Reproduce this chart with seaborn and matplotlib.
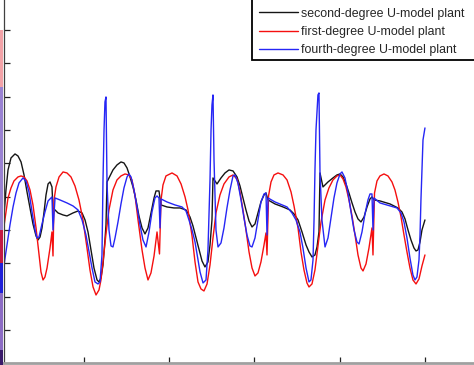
import numpy as np
import pandas as pd
import seaborn as sns
import matplotlib.pyplot as plt
from matplotlib.patches import Rectangle

# time (s) and plant output
t_second = [0.061, 0.084, 0.108, 0.143, 0.190, 0.225, 0.261, 0.296, 0.331, 0.366,
            0.401, 0.437, 0.460, 0.484, 0.507, 0.531, 0.554, 0.578, 0.601, 0.624,
            0.636, 0.695, 0.754, 0.800, 0.871, 0.930, 0.977, 1.012, 1.047, 1.082,
            1.117, 1.153, 1.176, 1.199, 1.223, 1.246, 1.258, 1.270, 1.305, 1.340,
            1.387, 1.434, 1.469, 1.505, 1.540, 1.575, 1.610, 1.645, 1.681, 1.716,
            1.751, 1.786, 1.822, 1.845, 1.880, 1.904, 1.974, 2.056, 2.127, 2.197,
            2.244, 2.279, 2.315, 2.350, 2.385, 2.420, 2.455, 2.479, 2.502, 2.514,
            2.561, 2.608, 2.655, 2.702, 2.749, 2.796, 2.831, 2.866, 2.901, 2.937,
            2.972, 3.007, 3.042, 3.077, 3.113, 3.136, 3.160, 3.242, 3.336, 3.418,
            3.465, 3.512, 3.559, 3.606, 3.641, 3.676, 3.711, 3.735, 3.758, 3.770,
            3.805, 3.864, 3.922, 3.969, 4.005, 4.040, 4.075, 4.110, 4.146, 4.181,
            4.216, 4.251, 4.287, 4.322, 4.357, 4.380, 4.404, 4.474, 4.592, 4.685,
            4.732, 4.768, 4.803, 4.838, 4.873, 4.897, 4.920, 4.944, 4.967, 5.002]
y_second = [-0.110, 0.040, 0.160, 0.232, 0.256, 0.244, 0.208, 0.130, 0.028, -0.068,
            -0.164, -0.236, -0.260, -0.242, -0.188, -0.092, 0.010, 0.076, 0.088, 0.058,
            -0.068, -0.098, -0.110, -0.116, -0.098, -0.086, -0.098, -0.140, -0.212, -0.320,
            -0.428, -0.500, -0.512, -0.488, -0.410, -0.260, -0.170, 0.088, 0.124, 0.160,
            0.190, 0.208, 0.202, 0.172, 0.118, 0.058, -0.020, -0.116, -0.188, -0.224,
            -0.188, -0.098, -0.008, 0.034, 0.034, -0.050, -0.062, -0.068, -0.068, -0.080,
            -0.122, -0.176, -0.248, -0.320, -0.386, -0.422, -0.392, -0.290, -0.140, 0.112,
            0.076, 0.112, 0.142, 0.160, 0.154, 0.118, 0.064, -0.008, -0.080, -0.146,
            -0.182, -0.164, -0.098, -0.032, 0.010, 0.022, -0.020, -0.044, -0.062, -0.080,
            -0.104, -0.140, -0.212, -0.290, -0.332, -0.362, -0.350, -0.302, -0.212, 0.142,
            0.058, 0.088, 0.112, 0.130, 0.136, 0.118, 0.076, 0.022, -0.038, -0.092,
            -0.134, -0.152, -0.122, -0.062, -0.014, -0.002, -0.020, -0.026, -0.044, -0.068,
            -0.092, -0.134, -0.200, -0.260, -0.308, -0.326, -0.320, -0.272, -0.200, -0.140]

t_first = [0.061, 0.084, 0.108, 0.143, 0.178, 0.225, 0.261, 0.296, 0.331, 0.366,
           0.401, 0.437, 0.472, 0.495, 0.519, 0.542, 0.566, 0.601, 0.624, 0.636,
           0.648, 0.671, 0.707, 0.754, 0.800, 0.847, 0.894, 0.941, 0.988, 1.035,
           1.070, 1.106, 1.141, 1.176, 1.199, 1.223, 1.258, 1.293, 1.340, 1.387,
           1.434, 1.481, 1.528, 1.563, 1.598, 1.634, 1.681, 1.716, 1.751, 1.786,
           1.822, 1.857, 1.886, 1.904, 1.927, 1.962, 2.033, 2.092, 2.139, 2.186,
           2.221, 2.268, 2.303, 2.338, 2.373, 2.408, 2.444, 2.479, 2.514, 2.549,
           2.596, 2.643, 2.702, 2.749, 2.796, 2.831, 2.866, 2.901, 2.937, 2.972,
           3.007, 3.042, 3.077, 3.113, 3.136, 3.148, 3.166, 3.195, 3.230, 3.277,
           3.336, 3.383, 3.430, 3.465, 3.512, 3.547, 3.582, 3.617, 3.641, 3.676,
           3.711, 3.746, 3.782, 3.829, 3.875, 3.922, 3.969, 4.005, 4.040, 4.075,
           4.110, 4.146, 4.181, 4.216, 4.251, 4.275, 4.310, 4.345, 4.380, 4.392,
           4.410, 4.439, 4.474, 4.521, 4.568, 4.615, 4.650, 4.685, 4.721, 4.756,
           4.791, 4.826, 4.861, 4.897, 4.932, 4.967, 5.002]
y_first = [-0.176, -0.092, -0.008, 0.052, 0.094, 0.118, 0.124, 0.118, 0.094, 0.040,
           -0.050, -0.188, -0.350, -0.452, -0.500, -0.482, -0.428, -0.308, -0.212, -0.356,
           -0.020, 0.058, 0.118, 0.148, 0.142, 0.118, 0.064, -0.020, -0.140, -0.308,
           -0.440, -0.542, -0.590, -0.560, -0.500, -0.392, -0.224, -0.080, 0.040, 0.100,
           0.124, 0.136, 0.130, 0.100, 0.010, -0.140, -0.320, -0.428, -0.500, -0.458,
           -0.356, -0.212, -0.344, -0.020, 0.070, 0.124, 0.142, 0.124, 0.076, -0.002,
           -0.080, -0.236, -0.392, -0.512, -0.554, -0.566, -0.524, -0.410, -0.248, -0.098,
           0.010, 0.076, 0.118, 0.130, 0.106, 0.028, -0.080, -0.200, -0.332, -0.428,
           -0.476, -0.458, -0.392, -0.290, -0.218, -0.350, 0.004, 0.088, 0.130, 0.142,
           0.130, 0.100, 0.028, -0.056, -0.188, -0.332, -0.440, -0.518, -0.542, -0.524,
           -0.440, -0.296, -0.152, -0.020, 0.052, 0.100, 0.124, 0.130, 0.106, 0.058,
           -0.020, -0.116, -0.230, -0.350, -0.428, -0.446, -0.404, -0.308, -0.188, -0.350,
           0.022, 0.094, 0.124, 0.136, 0.124, 0.088, 0.040, -0.032, -0.122, -0.230,
           -0.332, -0.428, -0.500, -0.524, -0.494, -0.416, -0.350]

t_fourth = [0.061, 0.096, 0.131, 0.167, 0.202, 0.237, 0.284, 0.319, 0.354, 0.390,
            0.425, 0.448, 0.472, 0.507, 0.542, 0.578, 0.624, 0.636, 0.660, 0.718,
            0.800, 0.871, 0.930, 0.977, 1.023, 1.059, 1.094, 1.129, 1.164, 1.188,
            1.211, 1.223, 1.235, 1.246, 1.258, 1.270, 1.293, 1.317, 1.340, 1.364,
            1.399, 1.434, 1.469, 1.505, 1.528, 1.552, 1.587, 1.622, 1.657, 1.692,
            1.728, 1.763, 1.798, 1.833, 1.857, 1.880, 1.892, 1.904, 1.974, 2.068,
            2.150, 2.197, 2.232, 2.268, 2.303, 2.338, 2.362, 2.397, 2.432, 2.455,
            2.467, 2.479, 2.491, 2.502, 2.514, 2.526, 2.549, 2.573, 2.608, 2.643,
            2.678, 2.714, 2.749, 2.772, 2.807, 2.843, 2.878, 2.913, 2.948, 2.972,
            3.007, 3.042, 3.077, 3.113, 3.136, 3.148, 3.160, 3.242, 3.383, 3.441,
            3.488, 3.535, 3.570, 3.606, 3.641, 3.664, 3.688, 3.700, 3.711, 3.723,
            3.746, 3.758, 3.770, 3.793, 3.829, 3.864, 3.899, 3.934, 3.969, 4.005,
            4.028, 4.063, 4.099, 4.134, 4.169, 4.204, 4.228, 4.263, 4.298, 4.333,
            4.357, 4.380, 4.392, 4.404, 4.474, 4.592, 4.674, 4.721, 4.756, 4.791,
            4.826, 4.861, 4.885, 4.908, 4.932, 4.944, 4.955, 4.967, 4.979, 5.002]
y_fourth = [-0.410, -0.290, -0.170, -0.062, 0.022, 0.082, 0.112, 0.094, 0.028, -0.092,
            -0.200, -0.248, -0.242, -0.164, -0.092, -0.026, -0.002, -0.200, -0.008, -0.020,
            -0.038, -0.056, -0.080, -0.140, -0.230, -0.332, -0.428, -0.512, -0.524, -0.512,
            -0.350, 0.100, 0.400, 0.568, 0.598, 0.082, -0.200, -0.296, -0.302, -0.248,
            -0.152, -0.044, 0.052, 0.118, 0.136, 0.118, 0.040, -0.062, -0.170, -0.260,
            -0.302, -0.212, -0.092, -0.008, 0.004, -0.008, -0.188, -0.014, -0.032, -0.050,
            -0.062, -0.086, -0.140, -0.200, -0.272, -0.380, -0.452, -0.518, -0.500, -0.320,
            -0.110, 0.100, 0.400, 0.550, 0.610, 0.220, -0.200, -0.302, -0.278, -0.188,
            -0.068, 0.040, 0.124, 0.130, 0.082, -0.020, -0.128, -0.230, -0.296, -0.302,
            -0.248, -0.140, -0.032, 0.016, 0.022, -0.230, -0.008, -0.032, -0.062, -0.098,
            -0.140, -0.212, -0.308, -0.428, -0.512, -0.500, -0.380, -0.140, 0.160, 0.400,
            0.610, 0.622, 0.142, -0.140, -0.302, -0.248, -0.128, -0.008, 0.082, 0.136,
            0.148, 0.112, 0.022, -0.092, -0.200, -0.272, -0.284, -0.212, -0.104, -0.020,
            0.016, 0.016, -0.200, -0.008, -0.038, -0.056, -0.068, -0.098, -0.152, -0.248,
            -0.368, -0.470, -0.500, -0.482, -0.380, -0.230, -0.020, 0.160, 0.340, 0.412]

labels = ['second-degree U-model plant', 'first-degree U-model plant', 'fourth-degree U-model plant']
colors = ['#151515', '#f50f0f', '#2626f5']

df = pd.concat([
    pd.DataFrame({'t': t_second, 'y': y_second, 'plant': labels[0]}),
    pd.DataFrame({'t': t_first, 'y': y_first, 'plant': labels[1]}),
    pd.DataFrame({'t': t_fourth, 'y': y_fourth, 'plant': labels[2]}),
], ignore_index=True)

sns.set_style('white')
plt.rcParams['font.family'] = ['Liberation Sans', 'DejaVu Sans']

fig = plt.figure(figsize=(4.74, 3.65), dpi=100)
ax = fig.add_axes([3.5 / 474, 1.7 / 365, 472.4 / 474, 366.7 / 365])

sns.lineplot(data=df, x='t', y='y', hue='plant', hue_order=labels, palette=colors,
             sort=False, estimator=None, linewidth=1.0, legend=False, ax=ax)

ax.set_xlim(0.055, 5.6)
ax.set_ylim(-1.0, 1.2)
ax.set_xticks([1, 2, 3, 4, 5])
ax.set_yticks(np.arange(-0.8, 1.01, 0.2))
ax.set_xticklabels([])
ax.set_yticklabels([])
ax.set_xlabel('')
ax.set_ylabel('')
ax.tick_params(direction='in', length=4.5, width=0.9, color='#222222',
               bottom=True, left=True)
for s in ['top', 'right']:
    ax.spines[s].set_visible(False)
ax.spines['bottom'].set_color('#a0a0a0')
ax.spines['bottom'].set_linewidth(2.0)
ax.spines['left'].set_color('#404040')
ax.spines['left'].set_linewidth(0.9)

# legend box (its top and right run past the crop)
box = Rectangle((252 / 474, (365 - 60) / 365), 0.6, 0.5, transform=fig.transFigure,
                facecolor='white', edgecolor='black', linewidth=1.3, clip_on=False, zorder=3)
ax.add_patch(box)
ax.legend(ax.lines[:3], labels, loc='lower left',
          bbox_to_anchor=(253 / 474, (365 - 62) / 365), bbox_transform=fig.transFigure,
          frameon=False, fontsize=8.9, handlelength=3.15, handletextpad=0.32,
          borderpad=0.45, labelspacing=0.52, borderaxespad=0)

# coloured sliver of the neighbouring figure at the left edge
strip = fig.add_axes([0, 0, 3 / 474, 1])
strip.set_axis_off()
strip.set_xlim(0, 1)
strip.set_ylim(365, 0)
for top, bot, c in [(30, 87, '#f3a3a8'), (87, 230, '#9a82d2'), (230, 263, '#c41a44'),
                    (263, 293, '#2020d8'), (293, 350, '#8c6cc4'), (350, 365, '#3a1a6a')]:
    strip.axhspan(top, bot, color=c, lw=0)

fig.savefig('out.png', dpi=100)
